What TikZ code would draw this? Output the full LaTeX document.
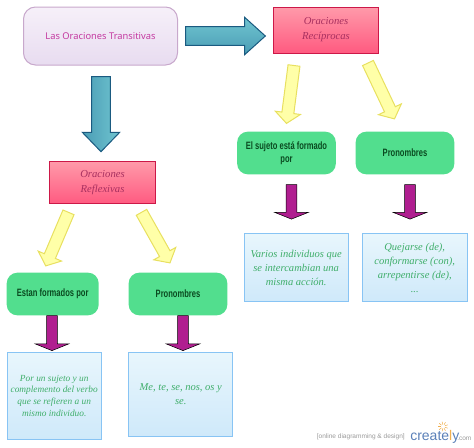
\documentclass[tikz,border=0pt]{standalone}
\usepackage{fontspec}
\setmainfont{Liberation Serif}
\newfontfamily\titlefont{Noto Sans}
\newfontfamily\headfont[FakeStretch=0.71]{Liberation Sans}
\newfontfamily\markfont{Liberation Sans}
\usetikzlibrary{calc}

\definecolor{titletext}{HTML}{C43AA0}
\definecolor{titleline}{HTML}{C8A8CC}
\definecolor{titletop}{HTML}{F6F0F9}
\definecolor{titlebottom}{HTML}{E8DCF0}
\definecolor{redline}{HTML}{CC1848}
\definecolor{redtop}{HTML}{FF9AAA}
\definecolor{redbottom}{HTML}{FF5A80}
\definecolor{redtext}{HTML}{A83060}
\definecolor{greenfill}{HTML}{52DE8E}
\definecolor{greentext}{HTML}{0A4A20}
\definecolor{bluetext}{HTML}{3FAE6A}
\definecolor{boxline}{HTML}{88C4F4}
\definecolor{boxtop}{HTML}{E8F6FC}
\definecolor{boxbottom}{HTML}{CFE9FA}
\definecolor{tealline}{HTML}{1A5A80}
\definecolor{teallight}{HTML}{70C4D0}
\definecolor{tealdark}{HTML}{4A9DB5}
\definecolor{yellowfill}{HTML}{FFFFA8}
\definecolor{yellowline}{HTML}{E8E060}
\definecolor{purplefill}{HTML}{B01E90}
\definecolor{markblue}{HTML}{5A80B8}
\definecolor{markorange}{HTML}{F0B050}

% style, tail, tip, half shaft, half head, head length
\newcommand{\blockarrow}[6]{
    \coordinate (neck) at ($(#3)!#6!(#2)$);
    \draw[#1] ($(#2)!#4!90:(#3)$) -- ($(neck)!#4!90:(#3)$) -- ($(neck)!#5!90:(#3)$) -- (#3)
        -- ($(neck)!#5!-90:(#3)$) -- ($(neck)!#4!-90:(#3)$) -- ($(#2)!#4!-90:(#3)$) -- cycle;
}

\begin{document}
\begin{tikzpicture}[
        x=0.75pt, y=-0.75pt,
        titlebox/.style={draw=titleline, rounded corners=9pt, minimum width=115.5pt,
                    minimum height=43.5pt, inner sep=0pt, line width=0.75pt, top color=titletop,
                    bottom color=titlebottom, text=titletext, font=\titlefont\fontsize{7}{9}\selectfont},
        redbox/.style={draw=redline, minimum width=79pt, inner sep=0pt, align=center, line width=0.75pt,
                    top color=redtop, bottom color=redbottom, text=redtext,
                    execute at begin node=\rule{0pt}{9pt},
                    font=\itshape\fontsize{8}{11.25}\selectfont},
        greenbox/.style={fill=greenfill, rounded corners=8pt, minimum width=74pt, minimum height=32pt,
                    inner sep=2pt, align=center, text=greentext,
                    font=\headfont\bfseries\fontsize{8}{10}\selectfont},
        textbox/.style={draw=boxline, inner sep=2pt, align=center, line width=0.75pt, top color=boxtop,
                    bottom color=boxbottom, text=bluetext, font=\itshape\fontsize{7.9}{10.5}\selectfont},
        tealarrow/.style={draw=tealline, line width=0.75pt},
        yellowarrow/.style={draw=yellowline, fill=yellowfill, line width=0.75pt},
        purplearrow/.style={fill=purplefill}
    ]
        \useasboundingbox (0,0) rectangle (474,447);

        \node[titlebox] (transitivas) at (100.5,36) {Las Oraciones Transitivas};

        \node[redbox, minimum height=32pt] (reflexivas) at (102.5,182.5) {Oraciones\\Reflexivas};
        \node[redbox, minimum height=34.5pt] (reciprocas) at (326,30) {Oraciones\\Recíprocas};

        \node[greenbox, minimum width=69pt] (formados) at (52.7,294) {Estan formados por};
        \node[greenbox] (pronrefl) at (178,294) {Pronombres};
        \node[greenbox] (sujeto) at (286.5,153) {El sujeto está formado\\por};
        \node[greenbox] (pronrec) at (405,153) {Pronombres};

        \node[textbox, minimum width=70.5pt, minimum height=65.5pt, font=\itshape\fontsize{7}{8.8}\selectfont] (individuo) at (54.2,395.7)
              {Por un sujeto y un\\complemento del verbo\\que se refieren a un\\mismo individuo.};
        \node[textbox, minimum width=78pt, minimum height=63pt] (pronombres) at (180.8,394.2)
              {Me, te, se, nos, os y\\se.};
        \node[textbox, minimum width=78pt, minimum height=51pt] (intercambian) at (296.2,267.7)
              {Varios individuos que\\se intercambian una\\misma acción.};
        \node[textbox, minimum width=78.5pt, minimum height=51pt] (quejarse) at (414.7,267.7)
              {Quejarse (de),\\conformarse (con),\\arrepentirse (de),\\...};

        \coordinate (downtail) at ($(transitivas.south)+(0.5,11)$);
        \coordinate (downtip) at ($(reflexivas.north)+(-1.5,-9)$);
        \coordinate (righttail) at ($(transitivas.east)+(7.5,0)$);
        \coordinate (righttip) at ($(reciprocas.west)+(-7.5,6)$);
        \blockarrow{tealarrow, left color=tealdark, right color=teallight}{downtail}{downtip}{7pt}{14pt}{14.5pt}
        \blockarrow{tealarrow, top color=teallight, bottom color=tealdark}{righttail}{righttip}{7pt}{14pt}{15.5pt}

        \coordinate (refllefttail) at ($(reflexivas.south)+(-34,8)$);
        \coordinate (refllefttip) at ($(formados.north)+(-7,-6.5)$);
        \coordinate (reflrighttail) at ($(reflexivas.south)+(39,8)$);
        \coordinate (reflrighttip) at ($(pronrefl.north)+(-8,-9.5)$);
        \coordinate (reclefttail) at ($(reciprocas.south)+(-32,12)$);
        \coordinate (reclefttip) at ($(sujeto.north)+(0,-8)$);
        \coordinate (recrighttail) at ($(reciprocas.south)+(42,9.5)$);
        \coordinate (recrighttip) at ($(pronrec.north)+(-10.5,-12.5)$);
        \blockarrow{yellowarrow}{refllefttail}{refllefttip}{4.5pt}{9.5pt}{8pt}
        \blockarrow{yellowarrow}{reflrighttail}{reflrighttip}{4.5pt}{9.5pt}{8pt}
        \blockarrow{yellowarrow}{reclefttail}{reclefttip}{4.5pt}{9.5pt}{8pt}
        \blockarrow{yellowarrow}{recrighttail}{recrighttip}{4.5pt}{9.5pt}{8pt}

        \coordinate (formadostail) at ($(formados.south)+(-0.7,0)$);
        \coordinate (formadostip) at ($(formados.south)+(-0.7,35)$);
        \coordinate (pronrefltail) at ($(pronrefl.south)+(5,0)$);
        \coordinate (pronrefltip) at ($(pronrefl.south)+(5,35)$);
        \coordinate (sujetotail) at ($(sujeto.south)+(5,10)$);
        \coordinate (sujetotip) at ($(sujeto.south)+(5,44.5)$);
        \coordinate (pronrectail) at ($(pronrec.south)+(5,10)$);
        \coordinate (pronrectip) at ($(pronrec.south)+(5,44.5)$);
        \blockarrow{purplearrow}{formadostail}{formadostip}{4pt}{12.5pt}{5pt}
        \blockarrow{purplearrow}{pronrefltail}{pronrefltip}{4pt}{12.5pt}{5pt}
        \blockarrow{purplearrow}{sujetotail}{sujetotip}{4pt}{12.5pt}{5pt}
        \blockarrow{purplearrow}{pronrectail}{pronrectip}{4pt}{12.5pt}{5pt}

        % creately mark
        \node[anchor=east, inner sep=0pt, text=gray!80, font=\markfont\fontsize{4.9}{6}\selectfont] (slogan) at (405,437) {[online diagramming \& design]};
        \node[anchor=west, inner sep=0pt, font=\markfont\fontsize{10.5}{11}\selectfont] (creately) at (410,437)
              {\textcolor{markblue}{create}\textcolor{markorange}{l}\textcolor{markblue}{y}};
        \node[anchor=west, inner sep=0pt, text=gray!80, font=\markfont\fontsize{4.9}{6}\selectfont] (dotcom) at (457,438.5) {.com};
        \foreach \ang in {20,60,...,340}
            \draw[markorange, line width=0.4pt] (443,426.5) ++(\ang:2) -- ++(\ang:3);
    \end{tikzpicture}
\end{document}
